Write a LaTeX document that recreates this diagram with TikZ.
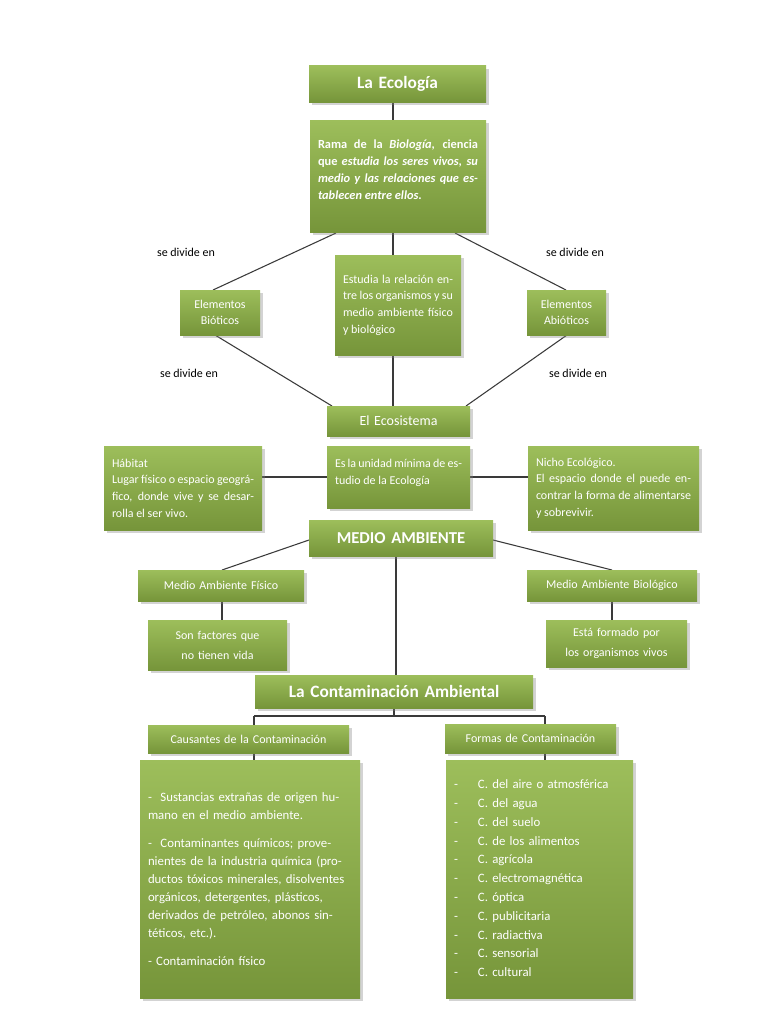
\documentclass[tikz,border=0pt]{standalone}
\usepackage{fontspec}
\setmainfont{Carlito}
\usetikzlibrary{shadows}
\definecolor{gtop}{HTML}{9DBE5B}
\definecolor{gbot}{HTML}{76953A}
\definecolor{ln}{HTML}{3A3A3A}
\begin{document}
\begin{tikzpicture}[x=0.75pt,y=-0.75pt,
  gb/.style={draw=none,top color=gtop,bottom color=gbot,text=white,
    drop shadow={opacity=0.35,shadow xshift=2pt,shadow yshift=-2pt},inner sep=0pt,font=\fontsize{9}{12.5}\selectfont},
  con/.style={draw=ln,line width=0.8pt},
  lab/.style={font=\fontsize{9}{11}\selectfont,text=black}]
\useasboundingbox (0,0) rectangle (768,1024);
\newcommand\gbox[7]{%
  \pgfmathsetmacro\bw{(#4-#2)*0.75}\pgfmathsetmacro\bh{(#5-#3)*0.75}\pgfmathsetmacro\tw{(#4-#2-16)*0.75}%
  \node[gb,minimum width=\bw pt,minimum height=\bh pt,text width=\tw pt,#6] (#1) at ({(#2+#4)/2},{(#3+#5)/2}) {#7};}
% connectors first (boxes drawn over)
\coordinate (r1) at (336,233); \coordinate (b1) at (213,290);
\coordinate (r2) at (455,233); \coordinate (a1) at (566,290);
\coordinate (b2) at (215,335); \coordinate (e1) at (332,406);
\coordinate (a2) at (567,335); \coordinate (e2) at (466,406);
\coordinate (m1) at (309,540); \coordinate (f1) at (222,570);
\coordinate (m2) at (493,540); \coordinate (g1) at (612,570);
\coordinate (j0) at (394,716); \coordinate (jl) at (254,716); \coordinate (jr) at (545,716);
\draw[con] (r1)--(b1); \draw[con] (r2)--(a1);
\draw[con] (b2)--(e1); \draw[con] (a2)--(e2);
\draw[con] (393,102)--(393,120);
\draw[con] (393,233)--(393,255);
\draw[con] (393,355)--(393,406);
\draw[con] (262,477)--(528,477);
\draw[con] (m1)--(f1); \draw[con] (m2)--(g1);
\draw[con] (222,601)--(222,620); \draw[con] (612,601)--(612,620);
\draw[con] (396,556)--(396,675);
\draw[con] (394,708)--(j0); \draw[con] (jl)--(jr);
\draw[con] (jl)--(254,725); \draw[con] (jr)--(545,724);
\draw[con] (254,753)--(254,760); \draw[con] (545,753)--(545,760);
% boxes
\gbox{eco}{309}{66}{486}{102}{align=center,font=\fontsize{13}{15}\selectfont\bfseries}{La Ecología}
\gbox{rama}{310}{120}{486}{232}{align=justify,font=\fontsize{9.3}{12.8}\selectfont\bfseries}{Rama de la \textit{Biología}, ciencia que \textit{estudia los seres vivos, su medio y las relaciones que establecen entre ellos.}\par\vspace{10pt}}
\gbox{est}{335}{255}{461}{355}{align=justify}{Estudia la relación entre los organismos y su medio ambiente físico y biológico}
\gbox{bio}{180}{290}{260}{335}{align=center}{Elementos Bióticos}
\gbox{abio}{527}{290}{606}{335}{align=center}{Elementos Abióticos}
\gbox{ecos}{327}{406}{470}{436}{align=center,font=\fontsize{10.5}{12}\selectfont}{El Ecosistema}
\gbox{uni}{327}{446}{470}{508}{align=justify}{Es la unidad mínima de estudio de la Ecología\par\vspace{6pt}}
\gbox{hab}{104}{446}{262}{530}{align=justify}{Hábitat\\ Lugar físico o espacio geográfico, donde vive y se desarrolla el ser vivo.}
\gbox{nicho}{528}{446}{699}{530}{align=justify}{Nicho Ecológico.\\ El espacio donde el puede encontrar la forma de alimentarse y sobrevivir.}
\gbox{ma}{309}{520}{493}{556}{align=center,font=\fontsize{12.5}{14}\selectfont\bfseries}{MEDIO AMBIENTE}
\gbox{maf}{138}{570}{304}{601}{align=center}{Medio Ambiente Físico}
\gbox{mab}{527}{570}{697}{601}{align=center}{Medio Ambiente Biológico}
\gbox{son}{148}{620}{287}{670}{align=center,font=\fontsize{9}{15}\selectfont}{Son factores que no tienen vida}
\gbox{esta}{546}{620}{687}{667}{align=center,font=\fontsize{9}{15}\selectfont}{Está formado por los organismos vivos}
\gbox{cont}{255}{675}{533}{708}{align=center,font=\fontsize{13}{15}\selectfont\bfseries}{La Contaminación Ambiental}
\gbox{caus}{148}{725}{349}{753}{align=center}{Causantes de la Contaminación}
\gbox{form}{445}{724}{616}{753}{align=center}{Formas de Contaminación}
\gbox{cl}{140}{760}{360}{998}{align=left,font=\fontsize{9.6}{13.6}\selectfont}{-\ \ Sustancias extrañas de origen humano en el medio ambiente.\par\vspace{7pt}
-\ \ Contaminantes químicos; provenientes de la industria química (productos tóxicos minerales, disolventes orgánicos, detergentes, plásticos, derivados de petróleo, abonos sintéticos, etc.).\par\vspace{7pt}
- Contaminación físico}
\gbox{fl}{446}{760}{633}{998}{align=left,font=\fontsize{9.6}{14.1}\selectfont}{%
\begin{tabular}{@{}p{18pt}@{}p{100pt}@{}}
-&C. del aire o atmosférica\\
-&C. del agua\\ -&C. del suelo\\ -&C. de los alimentos\\ -&C. agrícola\\
-&C. electromagnética\\ -&C. óptica\\ -&C. publicitaria\\ -&C. radiactiva\\
-&C. sensorial\\ -&C. cultural
\end{tabular}}
% labels
\node[lab] (l1) at (186,252) {se divide en};
\node[lab] (l2) at (575,252) {se divide en};
\node[lab] (l3) at (189,373) {se divide en};
\node[lab] (l4) at (578,373) {se divide en};
\end{tikzpicture}
\end{document}
